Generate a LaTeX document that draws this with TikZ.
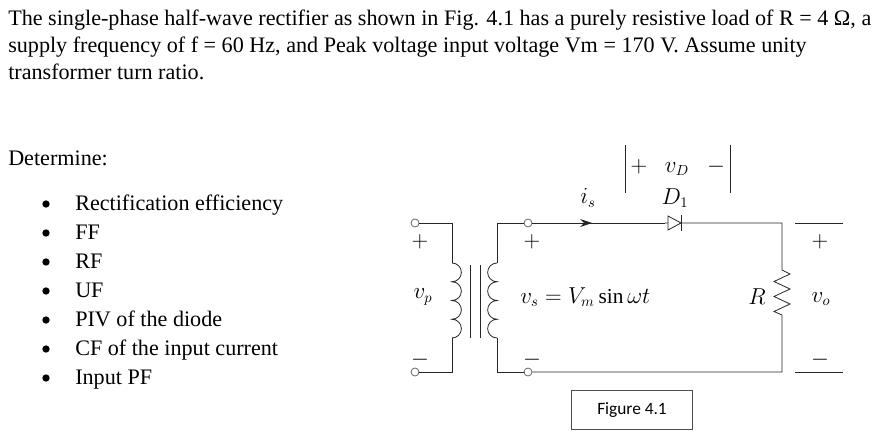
\documentclass[tikz,border=0pt]{standalone}
\usepackage{fontspec}
\setmainfont{Liberation Serif}
\newfontfamily\figfont{Carlito}
\usetikzlibrary{decorations.markings,arrows.meta}
\begin{document}
\begin{tikzpicture}[x=0.75pt,y=-0.75pt,
  txt/.style={anchor=base west,inner sep=0,font=\fontsize{16.6}{19}\selectfont},
  lbl/.style={inner sep=0,font=\fontsize{16}{18}\selectfont},
  wire/.style={line width=0.6pt,black!85},
  term/.style={circle,draw=black!60,fill=white,minimum size=6pt,inner sep=0,line width=0.6pt}]
\useasboundingbox (0,0) rectangle (888,442);
\node[txt] (l1) at (8,26) {The single-phase half-wave rectifier as shown in Fig. 4.1 has a purely resistive load of R = 4 Ω, a};
\node[txt] (l2) at (8,53) {supply frequency of f = 60 Hz, and Peak voltage input voltage Vm = 170 V. Assume unity};
\node[txt] (l3) at (8,80) {transformer turn ratio.};
\node[txt] (det) at (8,166) {Determine:};
\foreach \t [count=\i] in {Rectification efficiency,FF,RF,UF,PIV of the diode,CF of the input current,Input PF}{
  \node[txt] (b\i) at (75,{210+29*(\i-1)}) {\t};
  \node[circle,fill=black,inner sep=0,minimum size=5.5pt] (d\i) at (46,{204+29*(\i-1)}) {};
}
% circuit
\node[term] (t1) at (415,223) {};
\node[term] (t2) at (415,372) {};
\node[term] (t3) at (528,223) {};
\node[term] (t4) at (528,372) {};
\coordinate (pa) at (452,223); \coordinate (pb) at (452,263);
\coordinate (pc) at (452,338); \coordinate (pd) at (452,372);
\coordinate (sa) at (497,223); \coordinate (sb) at (497,263);
\coordinate (sc) at (497,338); \coordinate (sd) at (497,372);
\draw[wire] (t1) -- (pa) -- (pb);
\draw[wire] (pc) -- (pd) -- (t2);
\draw[wire] (pb) \foreach \k in {0,...,3}{ arc[start angle=-90,end angle=90,radius=9.375] };
\draw[wire] (sb) \foreach \k in {0,...,3}{ arc[start angle=-90,end angle=-270,radius=9.375] };
\draw[wire] (t3) -- (sa) -- (sb);
\draw[wire] (sc) -- (sd) -- (t4);
\draw[wire] (470,265) -- (470,338) (480,265) -- (480,338);
\coordinate (da) at (665,223); \coordinate (db) at (682,223);
\coordinate (ra) at (782,223); \coordinate (rb) at (782,270);
\coordinate (rc) at (782,315); \coordinate (rd) at (782,372);
\draw[wire,postaction={decorate},decoration={markings,mark=at position 0.5 with {\arrow{Stealth[length=9pt,width=6pt]}}}] (t3) -- (652,223);
\draw[wire] (652,223) -- (da);
\draw[wire] (da) -- (db) -- (ra) -- (rb) -- ++(8,4) -- ++(-16,7.5) -- ++(16,7.5) -- ++(-16,7.5) -- ++(16,7.5) -- ++(-16,7.5) -- (rc) -- (rd) -- (t4);
\draw[wire,fill=white] (668,216) -- (668,230) -- (681,223) -- cycle;
\draw[wire] (681,215) -- (681,231);
\draw[wire] (795,223) -- (843,223) (795,372) -- (843,372);
\node[lbl] at (420,242) {$+$}; \node[lbl] at (420,360) {$-$};
\node[lbl] at (532,242) {$+$}; \node[lbl] at (532,360) {$-$};
\node[lbl] at (820,242) {$+$}; \node[lbl] at (820,360) {$-$};
\node[lbl] (vp) at (423,297) {$v_p$};
\node[lbl,anchor=west] (vs) at (520,297) {$v_s = V_m \sin\omega t$};
\node[lbl] (R) at (757,297) {$R$};
\node[lbl] (vo) at (821,299) {$v_o$};
\node[lbl] (is) at (588,198) {$i_s$};
\node[lbl] (D1) at (675,198) {$D_1$};
\draw[wire] (625,145) -- (625,193) (730,145) -- (730,193);
\node[lbl] at (639,167) {$+$};
\node[lbl] at (677,169) {$v_D$};
\node[lbl] at (716,167) {$-$};
\node[draw=black!70,line width=0.6pt,minimum width=121pt*0.75,minimum height=39pt*0.75,font=\figfont\fontsize{13}{15}\selectfont] (fig) at (632,410) {Figure 4.1};
\end{tikzpicture}
\end{document}
